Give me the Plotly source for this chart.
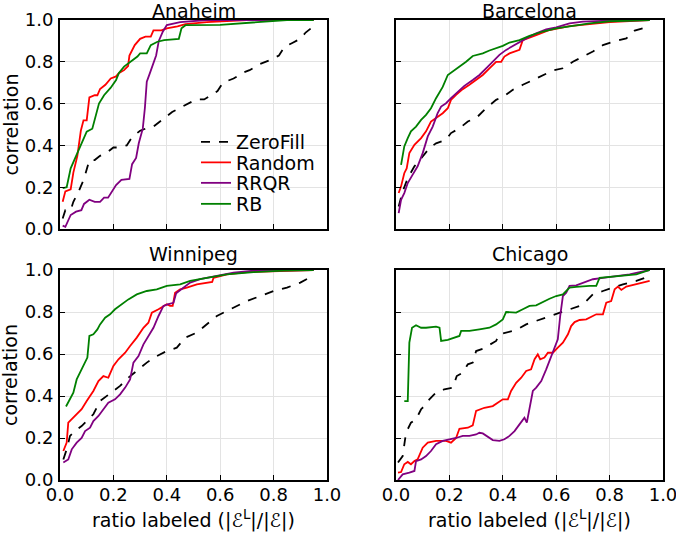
import plotly.graph_objects as go
from plotly.subplots import make_subplots

# Anaheim
ana_zero_x = [0.01, 0.02, 0.04, 0.05, 0.07, 0.09, 0.11, 0.13, 0.15, 0.18, 0.20, 0.22, 0.25, 0.27, 0.30, 0.32, 0.35, 0.37, 0.40, 0.42, 0.45, 0.48, 0.51, 0.54, 0.59, 0.61, 0.65, 0.69, 0.71, 0.75, 0.79, 0.82, 0.84, 0.87, 0.90, 0.92, 0.95]
ana_zero_y = [0.05, 0.09, 0.09, 0.13, 0.18, 0.24, 0.33, 0.33, 0.35, 0.37, 0.39, 0.39, 0.40, 0.44, 0.47, 0.48, 0.49, 0.51, 0.54, 0.56, 0.58, 0.60, 0.62, 0.62, 0.66, 0.70, 0.72, 0.75, 0.76, 0.79, 0.81, 0.83, 0.87, 0.89, 0.91, 0.94, 0.97]
ana_rand_x = [0.01, 0.02, 0.04, 0.05, 0.065, 0.078, 0.088, 0.10, 0.11, 0.13, 0.14, 0.15, 0.17, 0.19, 0.21, 0.22, 0.24, 0.255, 0.26, 0.28, 0.30, 0.32, 0.34, 0.35, 0.38, 0.40, 0.44, 0.47, 0.55, 0.70, 0.95]
ana_rand_y = [0.13, 0.18, 0.19, 0.27, 0.35, 0.47, 0.52, 0.52, 0.63, 0.64, 0.64, 0.67, 0.69, 0.72, 0.73, 0.745, 0.76, 0.78, 0.83, 0.88, 0.91, 0.92, 0.92, 0.95, 0.95, 0.96, 0.97, 0.98, 0.99, 1.0, 1.0]
ana_rrqr_x = [0.01, 0.02, 0.04, 0.06, 0.08, 0.09, 0.11, 0.13, 0.15, 0.165, 0.18, 0.196, 0.21, 0.23, 0.25, 0.26, 0.27, 0.285, 0.295, 0.31, 0.318, 0.325, 0.335, 0.345, 0.36, 0.37, 0.385, 0.40, 0.45, 0.55, 0.95]
ana_rrqr_y = [0.016, 0.01, 0.067, 0.083, 0.09, 0.12, 0.14, 0.13, 0.13, 0.15, 0.15, 0.18, 0.21, 0.235, 0.24, 0.24, 0.31, 0.34, 0.41, 0.48, 0.58, 0.705, 0.74, 0.78, 0.83, 0.90, 0.944, 0.976, 0.99, 1.0, 1.0]
ana_rb_x = [0.01, 0.025, 0.04, 0.06, 0.078, 0.10, 0.121, 0.146, 0.165, 0.19, 0.21, 0.22, 0.24, 0.265, 0.29, 0.30, 0.325, 0.34, 0.365, 0.39, 0.434, 0.445, 0.455, 0.47, 0.60, 0.70, 0.85, 0.95]
ana_rb_y = [0.195, 0.20, 0.29, 0.35, 0.40, 0.466, 0.48, 0.60, 0.64, 0.676, 0.713, 0.745, 0.777, 0.80, 0.825, 0.84, 0.84, 0.88, 0.896, 0.904, 0.909, 0.91, 0.96, 0.975, 0.977, 0.985, 1.0, 1.0]

# Barcelona
bar_zero_x = [0.01, 0.025, 0.044, 0.069, 0.10, 0.125, 0.15, 0.1875, 0.206, 0.2375, 0.269, 0.306, 0.3375, 0.375, 0.406, 0.4375, 0.475, 0.5125, 0.55, 0.5875, 0.625, 0.6625, 0.70, 0.7375, 0.775, 0.8125, 0.8625, 0.894, 0.925, 0.95]
bar_zero_y = [0.108, 0.18, 0.244, 0.30, 0.347, 0.387, 0.41, 0.427, 0.459, 0.482, 0.514, 0.538, 0.578, 0.618, 0.637, 0.666, 0.69, 0.713, 0.737, 0.758, 0.769, 0.80, 0.825, 0.849, 0.88, 0.896, 0.912, 0.949, 0.96, 0.984]
bar_rand_x = [0.01, 0.019, 0.031, 0.04, 0.05, 0.069, 0.094, 0.1125, 0.131, 0.15, 0.175, 0.194, 0.206, 0.225, 0.25, 0.275, 0.30, 0.325, 0.35, 0.375, 0.394, 0.406, 0.425, 0.45, 0.4625, 0.475, 0.494, 0.525, 0.575, 0.65, 0.725, 0.80, 0.95]
bar_rand_y = [0.172, 0.204, 0.267, 0.29, 0.363, 0.403, 0.435, 0.467, 0.514, 0.53, 0.554, 0.578, 0.618, 0.642, 0.669, 0.69, 0.713, 0.737, 0.769, 0.80, 0.80, 0.825, 0.84, 0.849, 0.857, 0.904, 0.912, 0.928, 0.952, 0.971, 0.98, 0.99, 1.0]
bar_rrqr_x = [0.01, 0.019, 0.031, 0.044, 0.0625, 0.081, 0.10, 0.119, 0.1375, 0.156, 0.169, 0.1875, 0.206, 0.231, 0.256, 0.2875, 0.3125, 0.344, 0.369, 0.3875, 0.4125, 0.4375, 0.456, 0.469, 0.494, 0.525, 0.5625, 0.60, 0.65, 0.70, 0.775, 0.95]
bar_rrqr_y = [0.076, 0.14, 0.172, 0.22, 0.26, 0.30, 0.363, 0.443, 0.49, 0.554, 0.586, 0.602, 0.626, 0.658, 0.685, 0.713, 0.737, 0.777, 0.809, 0.833, 0.857, 0.876, 0.889, 0.896, 0.917, 0.936, 0.955, 0.965, 0.984, 0.992, 0.996, 1.0]
bar_rb_x = [0.019, 0.031, 0.044, 0.056, 0.075, 0.094, 0.1125, 0.131, 0.15, 0.175, 0.194, 0.2125, 0.2375, 0.2625, 0.2875, 0.325, 0.35, 0.375, 0.40, 0.425, 0.4625, 0.50, 0.55, 0.60, 0.65, 0.725, 0.80, 0.95]
bar_rb_y = [0.307, 0.395, 0.435, 0.467, 0.49, 0.522, 0.546, 0.578, 0.626, 0.68, 0.737, 0.753, 0.777, 0.80, 0.828, 0.84, 0.854, 0.865, 0.876, 0.892, 0.904, 0.924, 0.945, 0.96, 0.971, 0.984, 0.994, 1.0]

# Winnipeg
win_zero_x = [0.0125, 0.025, 0.0375, 0.056, 0.081, 0.10, 0.125, 0.15, 0.175, 0.20, 0.225, 0.256, 0.2875, 0.325, 0.3625, 0.40, 0.4375, 0.469, 0.5125, 0.55, 0.5875, 0.625, 0.6625, 0.70, 0.75, 0.80, 0.85, 0.90, 0.95]
win_zero_y = [0.098, 0.146, 0.21, 0.233, 0.257, 0.281, 0.313, 0.376, 0.40, 0.424, 0.448, 0.487, 0.519, 0.559, 0.59, 0.614, 0.63, 0.678, 0.702, 0.741, 0.781, 0.805, 0.829, 0.852, 0.876, 0.90, 0.916, 0.94, 0.975]
win_rand_x = [0.0125, 0.025, 0.031, 0.044, 0.0625, 0.081, 0.10, 0.1125, 0.125, 0.144, 0.1625, 0.181, 0.20, 0.219, 0.244, 0.2625, 0.2875, 0.3125, 0.331, 0.344, 0.369, 0.40, 0.4125, 0.422, 0.431, 0.45, 0.475, 0.5125, 0.55, 0.57, 0.575, 0.625, 0.70, 0.8375, 0.95]
win_rand_y = [0.138, 0.178, 0.273, 0.289, 0.313, 0.337, 0.376, 0.40, 0.424, 0.471, 0.495, 0.487, 0.543, 0.575, 0.606, 0.638, 0.678, 0.725, 0.749, 0.797, 0.813, 0.837, 0.829, 0.829, 0.892, 0.908, 0.916, 0.932, 0.94, 0.943, 0.963, 0.979, 0.99, 0.997, 1.0]
win_rrqr_x = [0.0125, 0.031, 0.044, 0.0625, 0.081, 0.094, 0.1125, 0.125, 0.144, 0.1625, 0.181, 0.206, 0.225, 0.244, 0.2625, 0.275, 0.294, 0.3125, 0.331, 0.35, 0.369, 0.3875, 0.406, 0.425, 0.435, 0.456, 0.4875, 0.525, 0.5875, 0.65, 0.725, 0.95]
win_rrqr_y = [0.083, 0.098, 0.146, 0.178, 0.20, 0.233, 0.249, 0.281, 0.305, 0.337, 0.368, 0.384, 0.408, 0.44, 0.479, 0.559, 0.59, 0.646, 0.686, 0.725, 0.781, 0.829, 0.837, 0.844, 0.889, 0.908, 0.94, 0.956, 0.971, 0.987, 0.997, 1.0]
win_rb_x = [0.0225, 0.0375, 0.05, 0.0625, 0.075, 0.0875, 0.1025, 0.11, 0.125, 0.14, 0.15, 0.169, 0.1875, 0.206, 0.231, 0.256, 0.2875, 0.325, 0.3625, 0.40, 0.45, 0.4875, 0.55, 0.625, 0.725, 0.8375, 0.95]
win_rb_y = [0.35, 0.384, 0.416, 0.479, 0.511, 0.543, 0.583, 0.686, 0.694, 0.717, 0.741, 0.773, 0.789, 0.813, 0.837, 0.86, 0.884, 0.90, 0.908, 0.924, 0.932, 0.948, 0.963, 0.979, 0.99, 0.997, 1.0]

# Chicago
chi_zero_x = [0.0075, 0.025, 0.0375, 0.056, 0.075, 0.094, 0.106, 0.125, 0.15, 0.181, 0.2125, 0.2275, 0.25, 0.269, 0.2875, 0.30, 0.325, 0.356, 0.375, 0.3875, 0.4125, 0.45, 0.4875, 0.525, 0.5625, 0.60, 0.6375, 0.6875, 0.7125, 0.7375, 0.775, 0.8125, 0.85, 0.90, 0.95]
chi_zero_y = [0.083, 0.114, 0.225, 0.273, 0.289, 0.337, 0.352, 0.384, 0.416, 0.432, 0.44, 0.495, 0.511, 0.551, 0.559, 0.614, 0.625, 0.646, 0.662, 0.694, 0.702, 0.714, 0.741, 0.757, 0.773, 0.789, 0.805, 0.829, 0.852, 0.884, 0.90, 0.916, 0.932, 0.948, 0.971]
chi_rand_x = [0.0075, 0.019, 0.031, 0.044, 0.056, 0.069, 0.081, 0.10, 0.119, 0.15, 0.1875, 0.206, 0.225, 0.2375, 0.269, 0.2875, 0.30, 0.331, 0.3625, 0.3875, 0.40, 0.419, 0.431, 0.45, 0.469, 0.4875, 0.506, 0.519, 0.531, 0.54, 0.556, 0.569, 0.5875, 0.606, 0.625, 0.644, 0.656, 0.669, 0.6875, 0.7125, 0.7375, 0.75, 0.775, 0.7875, 0.806, 0.819, 0.831, 0.844, 0.8625, 0.90, 0.925, 0.95]
chi_rand_y = [0.035, 0.038, 0.075, 0.086, 0.075, 0.09, 0.098, 0.154, 0.178, 0.186, 0.186, 0.178, 0.20, 0.244, 0.249, 0.26, 0.329, 0.344, 0.352, 0.371, 0.384, 0.384, 0.424, 0.463, 0.487, 0.519, 0.527, 0.575, 0.598, 0.575, 0.583, 0.606, 0.606, 0.63, 0.654, 0.694, 0.733, 0.752, 0.762, 0.765, 0.781, 0.789, 0.789, 0.844, 0.852, 0.908, 0.921, 0.905, 0.921, 0.932, 0.943, 0.948]
chi_rrqr_x = [0.0075, 0.025, 0.05, 0.069, 0.075, 0.094, 0.1125, 0.131, 0.15, 0.175, 0.20, 0.225, 0.25, 0.275, 0.30, 0.3125, 0.325, 0.344, 0.3625, 0.3875, 0.406, 0.425, 0.444, 0.4625, 0.481, 0.49, 0.50, 0.5125, 0.525, 0.544, 0.5625, 0.581, 0.594, 0.606, 0.615, 0.625, 0.6375, 0.65, 0.675, 0.70, 0.7375, 0.775, 0.825, 0.875, 0.9125, 0.95]
chi_rrqr_y = [0.0, 0.027, 0.035, 0.043, 0.09, 0.098, 0.114, 0.138, 0.17, 0.186, 0.194, 0.20, 0.21, 0.21, 0.217, 0.225, 0.222, 0.206, 0.19, 0.186, 0.194, 0.21, 0.233, 0.265, 0.297, 0.273, 0.337, 0.424, 0.44, 0.471, 0.527, 0.59, 0.638, 0.67, 0.781, 0.876, 0.892, 0.924, 0.927, 0.94, 0.956, 0.963, 0.971, 0.979, 0.99, 1.0]
chi_rb_x = [0.031, 0.044, 0.05, 0.06, 0.075, 0.094, 0.1125, 0.15, 0.163, 0.169, 0.194, 0.225, 0.2375, 0.244, 0.275, 0.3125, 0.35, 0.375, 0.40, 0.4125, 0.45, 0.475, 0.50, 0.525, 0.55, 0.575, 0.60, 0.625, 0.65, 0.675, 0.725, 0.75, 0.7625, 0.8125, 0.8625, 0.90, 0.95]
chi_rb_y = [0.376, 0.376, 0.654, 0.725, 0.737, 0.725, 0.725, 0.73, 0.725, 0.662, 0.667, 0.678, 0.686, 0.71, 0.71, 0.717, 0.725, 0.741, 0.765, 0.80, 0.797, 0.813, 0.829, 0.832, 0.848, 0.863, 0.876, 0.884, 0.916, 0.92, 0.924, 0.924, 0.963, 0.968, 0.975, 0.979, 1.0]

cities = ["Anaheim", "Barcelona", "Winnipeg", "Chicago"]
methods = ["ZeroFill", "Random", "RRQR", "RB"]
colors = {"ZeroFill": "black", "Random": "#ff0000", "RRQR": "#800080", "RB": "#008000"}
ticks = [0, 0.2, 0.4, 0.6, 0.8, 1.0]

data = {
    "Anaheim": [(ana_zero_x, ana_zero_y), (ana_rand_x, ana_rand_y), (ana_rrqr_x, ana_rrqr_y), (ana_rb_x, ana_rb_y)],
    "Barcelona": [(bar_zero_x, bar_zero_y), (bar_rand_x, bar_rand_y), (bar_rrqr_x, bar_rrqr_y), (bar_rb_x, bar_rb_y)],
    "Winnipeg": [(win_zero_x, win_zero_y), (win_rand_x, win_rand_y), (win_rrqr_x, win_rrqr_y), (win_rb_x, win_rb_y)],
    "Chicago": [(chi_zero_x, chi_zero_y), (chi_rand_x, chi_rand_y), (chi_rrqr_x, chi_rrqr_y), (chi_rb_x, chi_rb_y)],
}

W, H = 676, 533
font = "DejaVu Sans"
tick_fs = 18
label_fs = 19

fig = make_subplots(rows=2, cols=2)

# panel boxes in pixels: left, right, top, bottom
boxes = {
    (1, 1): (60, 327, 20, 229),
    (1, 2): (396, 663, 20, 229),
    (2, 1): (60, 327, 270, 480),
    (2, 2): (396, 663, 270, 480),
}
title_y = {1: 11, 2: 254}

legend_names = ["legend", "legend2", "legend3", "legend4"]
legend_rows = [142, 162.5, 183, 204]

for i, city in enumerate(cities):
    row, col = i // 2 + 1, i % 2 + 1
    for k, (m, (xs, ys)) in enumerate(zip(methods, data[city])):
        fig.add_trace(go.Scatter(
            x=xs, y=ys, mode="lines", name=m,
            line=dict(color=colors[m], width=1.8, dash="dash" if m == "ZeroFill" else "solid"),
            showlegend=(i == 0), legend=legend_names[k],
        ), row=row, col=col)

    l, r, t, b = boxes[(row, col)]
    common = dict(
        range=[0, 1], tickvals=ticks, tickformat=".1f",
        ticks="inside", ticklen=5, tickwidth=1.2, tickcolor="black",
        showline=True, linecolor="black", linewidth=1.8, mirror=True,
        showgrid=True, gridcolor="#e3e3e3", gridwidth=0.8, zeroline=False,
        automargin=False, ticklabeloverflow="allow",
        tickfont=dict(family=font, size=tick_fs, color="black"),
    )
    fig.update_xaxes(domain=[l / W, r / W], showticklabels=(row == 2), ticklabelstandoff=-3,
                     row=row, col=col, **common)
    fig.update_yaxes(domain=[1 - b / H, 1 - t / H], showticklabels=(col == 1), ticklabelstandoff=1,
                     row=row, col=col, **common)

    # panel title
    fig.add_annotation(
        text=city, x=(l + r) / 2 / W, y=1 - title_y[row] / H, xref="paper", yref="paper",
        xanchor="center", yanchor="middle", showarrow=False,
        font=dict(family=font, size=label_fs, color="black"),
    )
    if col == 1:
        fig.add_annotation(
            text="correlation", textangle=-90, x=10 / W, y=1 - (t + b) / 2 / H,
            xref="paper", yref="paper", xanchor="center", yanchor="middle", showarrow=False,
            font=dict(family=font, size=label_fs, color="black"),
        )
    if row == 2:
        fig.add_annotation(
            text="ratio labeled (|ℰ<sup>L</sup>|/|ℰ|)", x=(l + r) / 2 / W, y=1 - 519 / H,
            xref="paper", yref="paper", xanchor="center", yanchor="middle", showarrow=False,
            font=dict(family=font, size=label_fs, color="black"),
        )

layout_legends = {}
for name, yc in zip(legend_names, legend_rows):
    layout_legends[name] = dict(
        x=196 / W, y=1 - yc / H, xanchor="left", yanchor="middle",
        bgcolor="rgba(0,0,0,0)", borderwidth=0,
        font=dict(family=font, size=label_fs, color="black"),
    )

fig.update_layout(
    width=W, height=H,
    margin=dict(l=0, r=0, t=0, b=0),
    plot_bgcolor="white", paper_bgcolor="white",
    font=dict(family=font, size=tick_fs, color="black"),
    **layout_legends,
)

# drop the default page margin so the figure sits at the window's corner
fig.write_html("out.html", config={"displayModeBar": False},
               post_script="document.body.style.margin = '0';")
